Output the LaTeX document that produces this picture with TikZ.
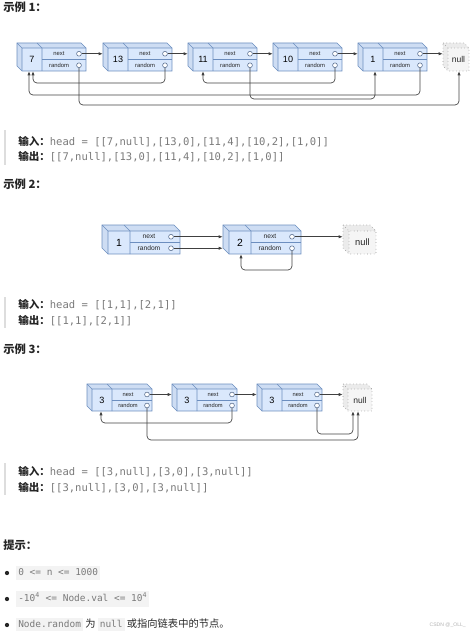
\documentclass[tikz,border=0pt]{standalone}
\usepackage{fontspec}
\setmainfont{Liberation Sans}
\newfontfamily\cjk{Noto Sans CJK SC}
\newfontfamily\mono{DejaVu Sans Mono}
\usetikzlibrary{arrows.meta}
\definecolor{cubeblue}{HTML}{DAE8FC}
\definecolor{cubeside}{HTML}{CEDDF3}
\definecolor{cubeedge}{HTML}{6C8EBF}
\definecolor{nullfill}{HTML}{F5F5F5}
\definecolor{nullside}{HTML}{EBEBEB}
\definecolor{nulledge}{HTML}{999999}
\definecolor{codegray}{HTML}{7A7A7A}
\definecolor{codebg}{HTML}{F3F3F3}
\definecolor{quotebar}{HTML}{DDDDDD}
\definecolor{labeldark}{HTML}{262626}

\newcommand{\inlinecode}[1]{{\setlength{\fboxsep}{1.5pt}\colorbox{codebg}{\mono\fontsize{7.1}{8}\selectfont\color{codegray}\strut #1}}}

% cube: style prefix, x0, y0, width, height (depth \boxd)
\newcommand{\drawcube}[5]{%
  \fill[#1side] (#2,#3) -- ({#2+#4-\boxd},#3) -- ({#2+#4},{#3+\boxd}) -- ({#2+\boxd},{#3+\boxd}) -- cycle;
  \fill[#1side] (#2,#3) -- ({#2+\boxd},{#3+\boxd}) -- ({#2+\boxd},{#3+#5}) -- (#2,{#3+#5-\boxd}) -- cycle;
  \fill[#1front] ({#2+\boxd},{#3+\boxd}) rectangle ({#2+#4},{#3+#5});
  \draw[#1edge] (#2,#3) -- ({#2+#4-\boxd},#3) -- ({#2+#4},{#3+\boxd}) -- ({#2+#4},{#3+#5})
    -- ({#2+\boxd},{#3+#5}) -- (#2,{#3+#5-\boxd}) -- cycle;
  \draw[#1edge] (#2,#3) -- ({#2+\boxd},{#3+\boxd}) -- ({#2+#4},{#3+\boxd})
    ({#2+\boxd},{#3+\boxd}) -- ({#2+\boxd},{#3+#5});
}
% list node: name, x0, y0, value
\newcommand{\listnode}[4]{%
  \drawcube{lst}{#2}{#3}{\boxw}{\boxh}
  \draw[lstedge] ({#2+\valw},#3) -- ({#2+\boxd+\valw},{#3+\boxd}) -- ({#2+\boxd+\valw},{#3+\boxh});
  \draw[lstedge] ({#2+\boxd+\valw},{#3+(\boxh+\boxd)/2}) -- ({#2+\boxw},{#3+(\boxh+\boxd)/2});
  \node[inner sep=0pt, minimum width={\boxw*0.75pt}, minimum height={\boxh*0.75pt}] (#1-box) at ({#2+\boxw/2},{#3+\boxh/2}) {};
  \node[valtxt, minimum width={\valw*0.75pt}, minimum height={(\boxh-\boxd)*0.75pt}] (#1) at ({#2+\boxd+\valw/2},{#3+(\boxh+\boxd)/2}) {#4};
  \node[fldtxt] (#1-nxl) at ({#2+(\boxd+\valw+\boxw-\portx-3)/2},{#3+\boxd+(\boxh-\boxd)/4}) {next};
  \node[fldtxt] (#1-rdl) at ({#2+(\boxd+\valw+\boxw-\portx-3)/2},{#3+\boxd+3*(\boxh-\boxd)/4}) {random};
  \node[port] (#1-nx) at ({#2+\boxw-\portx},{#3+\boxd+(\boxh-\boxd)/4}) {};
  \node[port] (#1-rd) at ({#2+\boxw-\portx},{#3+\boxd+3*(\boxh-\boxd)/4}) {};
}
% null node: name, x0, y0, width, height
\newcommand{\nullnode}[5]{%
  \drawcube{nul}{#2}{#3}{#4}{#5}
  \node[inner sep=0pt, minimum width={#4*0.75pt}, minimum height={#5*0.75pt}] (#1) at ({#2+#4/2},{#3+#5/2}) {};
  \node[nultxt] (#1-t) at ({#2+(#4+\boxd)/2},{#3+(#5+\boxd)/2}) {null};
}

\begin{document}
\begin{tikzpicture}[x=0.75pt, y=-0.75pt,
    lstside/.style={fill=cubeside}, lstfront/.style={fill=cubeblue},
    lstedge/.style={draw=cubeedge, line width=0.5pt},
    nulside/.style={fill=nullside}, nulfront/.style={fill=nullfill},
    nuledge/.style={draw=nulledge, line width=0.5pt, dotted},
    port/.style={circle, draw=cubeedge!70!black, fill=white, line width=0.4pt,
      inner sep=0pt, minimum size=3.6pt},
    valtxt/.style={inner sep=0pt, font=\fontsize{\valfs}{\valfs}\selectfont},
    fldtxt/.style={inner sep=0pt, text=labeldark, font=\fontsize{\fldfs}{\fldfs}\selectfont},
    nultxt/.style={inner sep=0pt, text=labeldark, font=\fontsize{\nulfs}{\nulfs}\selectfont},
    nxarr/.style={draw=black!75, line width=0.5pt, -{Latex[length=3pt,width=2.4pt]}},
    rdarr/.style={nxarr, rounded corners=3pt},
    head/.style={anchor=west, inner sep=0pt, text=labeldark,
      font=\cjk\bfseries\fontsize{8.5}{10}\selectfont},
    txt/.style={anchor=west, inner sep=0pt, font=\fontsize{7.9}{9}\selectfont},
    dot/.style={circle, fill=labeldark, inner sep=0pt, minimum size=3.2pt}
  ]
  \useasboundingbox (0,0) rectangle (474,631);

  % example 1
  \node[head] (ex1) at (3,7) {示例 1：};
  \def\boxw{69}\def\boxh{28}\def\boxd{5}\def\valw{20}\def\portx{7}
  \def\valfs{6.8}\def\fldfs{4.4}\def\nulfs{6.4}
  \listnode{a1}{17}{43}{7}
  \listnode{a2}{103}{43}{13}
  \listnode{a3}{188}{43}{11}
  \listnode{a4}{273}{43}{10}
  \listnode{a5}{358}{43}{1}
  \nullnode{anull}{443}{43}{26}{28}
  \draw[nxarr] (a1-nx) -- (a1-nx -| a2-box.west);
  \draw[nxarr] (a2-nx) -- (a2-nx -| a3-box.west);
  \draw[nxarr] (a3-nx) -- (a3-nx -| a4-box.west);
  \draw[nxarr] (a4-nx) -- (a4-nx -| a5-box.west);
  \draw[nxarr] (a5-nx) -- (a5-nx -| anull.west);
  \draw[rdarr] (a1-rd) -- ++(0,39.75) -| ([xshift=2.25pt]anull.south);
  \draw[rdarr] (a2-rd) -- ++(0,17.75) -| ([xshift=0.75pt]a1.south);
  \draw[rdarr] (a3-rd) -- ++(0,33.75) -| ([xshift=1.5pt]a5.south);
  \draw[rdarr] (a4-rd) -- ++(0,17.75) -| (a3.south);
  \draw[rdarr] (a5-rd) -- ++(0,29.75) -| ([xshift=-2.25pt]a1.south);
  \fill[quotebar] (4,130) rectangle (6,165);
  \node[txt] (in1) at (18,142) {{\cjk\bfseries\color{labeldark}输入：}{\mono\color{codegray}head = [[7,null],[13,0],[11,4],[10,2],[1,0]]}};
  \node[txt] (out1) at (18,157) {{\cjk\bfseries\color{labeldark}输出：}{\mono\color{codegray}[[7,null],[13,0],[11,4],[10,2],[1,0]]}};

  % example 2
  \node[head] (ex2) at (3,184) {示例 2：};
  \def\boxw{78}\def\boxh{29}\def\boxd{6}\def\valw{22}\def\portx{9}
  \def\valfs{7.8}\def\fldfs{5}\def\nulfs{7}
  \listnode{b1}{102}{225}{1}
  \listnode{b2}{223}{225}{2}
  \nullnode{bnull}{343}{225}{33}{29}
  \draw[nxarr] (b1-nx) -- (b1-nx -| b2-box.west);
  \draw[nxarr] (b1-rd) -- (b1-rd -| b2-box.west);
  \draw[nxarr] (b2-nx) -- (b2-nx -| bnull.west);
  \draw[rdarr] (b2-rd) -- ++(0,21.75) -| ([xshift=0.75pt]b2.south);
  \fill[quotebar] (4,297) rectangle (6,328);
  \node[txt] (in2) at (18,305) {{\cjk\bfseries\color{labeldark}输入：}{\mono\color{codegray}head = [[1,1],[2,1]]}};
  \node[txt] (out2) at (18,321) {{\cjk\bfseries\color{labeldark}输出：}{\mono\color{codegray}[[1,1],[2,1]]}};

  % example 3
  \node[head] (ex3) at (3,349) {示例 3：};
  \def\boxw{65}\def\boxh{27}\def\boxd{5}\def\valw{20}\def\portx{5}
  \def\valfs{6.8}\def\fldfs{4.3}\def\nulfs{6.4}
  \listnode{c1}{87}{384}{3}
  \listnode{c2}{172}{384}{3}
  \listnode{c3}{257}{384}{3}
  \nullnode{cnull}{343}{384}{29}{27}
  \draw[nxarr] (c1-nx) -- (c1-nx -| c2-box.west);
  \draw[nxarr] (c2-nx) -- (c2-nx -| c3-box.west);
  \draw[nxarr] (c3-nx) -- (c3-nx -| cnull.west);
  \draw[rdarr] (c1-rd) -- ++(0,34.5) -| ([xshift=0.4pt]cnull.south);
  \draw[rdarr] (c2-rd) -- ++(0,17.5) -| ([xshift=-0.75pt]c1.south);
  \draw[rdarr] (c3-rd) -- ++(0,28.5) -| ([xshift=-3.4pt]cnull.south);
  \fill[quotebar] (4,463) rectangle (6,495);
  \node[txt] (in3) at (18,472) {{\cjk\bfseries\color{labeldark}输入：}{\mono\color{codegray}head = [[3,null],[3,0],[3,null]]}};
  \node[txt] (out3) at (18,488) {{\cjk\bfseries\color{labeldark}输出：}{\mono\color{codegray}[[3,null],[3,0],[3,null]]}};

  % hints
  \node[head] (tips) at (3,545) {提示：};
  \node[dot] (d1) at (7,573) {};
  \node[dot] (d2) at (7,599) {};
  \node[dot] (d3) at (7,625) {};
  \node[txt] (h1) at (16,573) {\inlinecode{0 <= n <= 1000}};
  \node[txt] (h2) at (16,599) {\inlinecode{-10\textsuperscript{4} <= Node.val <= 10\textsuperscript{4}}};
  \node[txt, font=\cjk\fontsize{7.7}{9}\selectfont, text=labeldark] (h3) at (16,625)
    {\inlinecode{Node.random} 为 \inlinecode{null} 或指向链表中的节点。};
  \node[anchor=east, inner sep=0pt, text=black!30, font=\fontsize{3.8}{4}\selectfont] (mark) at (466,625) {CSDN @\_OLL\_};
\end{tikzpicture}
\end{document}
